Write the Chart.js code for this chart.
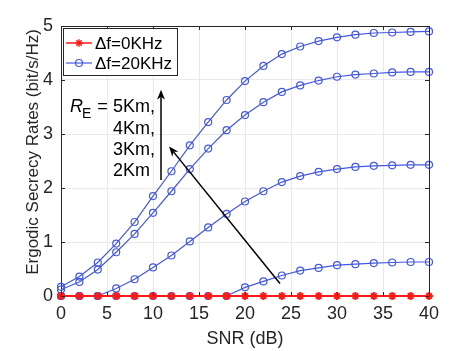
<!DOCTYPE html>
<html>
<head>
<meta charset="utf-8">
<script src="https://cdn.jsdelivr.net/npm/chart.js@4/dist/chart.umd.min.js"></script>
<style>
  html, body { margin: 0; padding: 0; background: #fff; }
  #wrap { width: 474px; height: 351px; }
</style>
</head>
<body>
<div id="wrap"><canvas id="chart" width="474" height="351"></canvas></div>
<script>
// Data (SNR in dB, rates in bit/s/Hz)
const snr = [0, 2, 4, 6, 8, 10, 12, 14, 16, 18, 20, 22, 24, 26, 28, 30, 32, 34, 36, 38, 40];
const rate0KHz = [0, 0, 0, 0, 0, 0, 0, 0, 0, 0, 0, 0, 0, 0, 0, 0, 0, 0, 0, 0, 0];
const rate5Km = [0.17, 0.36, 0.62, 0.97, 1.37, 1.85, 2.31, 2.79, 3.22, 3.63, 3.98, 4.26, 4.48, 4.62, 4.72, 4.79, 4.84, 4.87, 4.88, 4.89, 4.90];
const rate4Km = [0.12, 0.26, 0.49, 0.81, 1.15, 1.54, 1.94, 2.35, 2.73, 3.07, 3.35, 3.59, 3.78, 3.90, 3.99, 4.06, 4.10, 4.12, 4.14, 4.15, 4.15];
const rate3Km = [0, 0, 0, 0.14, 0.31, 0.53, 0.75, 1.01, 1.27, 1.52, 1.75, 1.94, 2.11, 2.22, 2.30, 2.35, 2.39, 2.41, 2.42, 2.43, 2.43];
const rate2Km = [0, 0, 0, 0, 0, 0, 0, 0, 0, 0, 0.16, 0.27, 0.38, 0.47, 0.52, 0.57, 0.59, 0.61, 0.62, 0.63, 0.63];

const legendLabels = ["\u0394f=0KHz", "\u0394f=20KHz"];
const distanceLabels = ["5Km,", "4Km,", "3Km,", "2Km"];
const yTitle = "Ergodic Secrecy Rates (bit/s/Hz)";
const xTicks = { min: 0, max: 40, step: 5 };
const yTicks = { min: 0, max: 5, step: 1 };

const RED = "#ff1a1a";
const BLUE = "#4458e0";
const AXIS = "#262626";
const FONT = '"Liberation Sans", Arial, sans-serif';

Chart.defaults.font.family = FONT;

const toPoints = (ys) => ys.map((y, i) => ({ x: snr[i], y: y }));

function blueSet(ys) {
  return {
    data: toPoints(ys),
    borderColor: BLUE,
    backgroundColor: "rgba(0,0,0,0)",
    borderWidth: 1.2,
    pointStyle: "circle",
    pointRadius: 3.5,
    pointBorderWidth: 1.2,
    pointBorderColor: BLUE,
    pointBackgroundColor: "rgba(0,0,0,0)",
    tension: 0,
    clip: false,
  };
}

// Inward ticks, top/right box, y title, legend and annotation arrows
const decorations = {
  id: "decorations",
  afterDatasetsDraw(chart) {
    const { ctx, chartArea: a, scales } = chart;
    const xs = scales.x, ys = scales.y;
    ctx.save();

    // box
    ctx.strokeStyle = AXIS;
    ctx.lineWidth = 1;
    ctx.beginPath();
    ctx.moveTo(a.left, a.top + 0.5);
    ctx.lineTo(a.right + 0.5, a.top + 0.5);
    ctx.lineTo(a.right + 0.5, a.bottom);
    ctx.stroke();

    // inward tick marks
    ctx.beginPath();
    for (let v = xTicks.min; v <= xTicks.max; v += xTicks.step) {
      const px = Math.round(xs.getPixelForValue(v)) + 0.5;
      ctx.moveTo(px, a.bottom); ctx.lineTo(px, a.bottom - 4);
      ctx.moveTo(px, a.top); ctx.lineTo(px, a.top + 4);
    }
    for (let v = yTicks.min; v <= yTicks.max; v += yTicks.step) {
      const py = Math.round(ys.getPixelForValue(v)) + 0.5;
      ctx.moveTo(a.left, py); ctx.lineTo(a.left + 4, py);
      ctx.moveTo(a.right, py); ctx.lineTo(a.right - 4, py);
    }
    ctx.stroke();

    // y axis title
    ctx.save();
    ctx.translate(33, (a.top + a.bottom) / 2 - 9);
    ctx.rotate(-Math.PI / 2);
    ctx.font = "17px " + FONT;
    ctx.fillStyle = AXIS;
    ctx.textAlign = "center";
    ctx.textBaseline = "middle";
    ctx.fillText(yTitle, 0, 0);
    ctx.restore();

    // arrows (data coordinates)
    drawArrow(ctx, xs.getPixelForValue(10.87), ys.getPixelForValue(2.15),
      xs.getPixelForValue(10.87), ys.getPixelForValue(3.82));
    drawArrow(ctx, xs.getPixelForValue(23.8), ys.getPixelForValue(0.23),
      xs.getPixelForValue(11.75), ys.getPixelForValue(2.77));

    // R_E label
    ctx.fillStyle = "#000";
    ctx.textBaseline = "alphabetic";
    const rx = xs.getPixelForValue(0.98);
    const ry = ys.getPixelForValue(3.40);
    ctx.font = "italic 18px " + FONT;
    ctx.fillText("R", rx, ry);
    const rw = ctx.measureText("R").width;
    ctx.font = "14px " + FONT;
    ctx.fillText("E", rx + rw - 1, ry + 6);
    const ew = ctx.measureText("E").width;
    ctx.font = "18px " + FONT;
    const eqx = rx + rw - 1 + ew + 6;
    ctx.fillText("=", eqx, ry);
    const lx = xs.getPixelForValue(5.65);
    distanceLabels.forEach((t, i) => ctx.fillText(t, lx, ry + i * 21.2));

    // legend
    const L = { x: 63.5, y: 28.5, w: 114, h: 47 };
    ctx.fillStyle = "#fff";
    ctx.fillRect(L.x, L.y, L.w, L.h);
    ctx.strokeStyle = AXIS;
    ctx.lineWidth = 1;
    ctx.strokeRect(L.x, L.y, L.w, L.h);
    ctx.font = "17px " + FONT;
    ctx.textBaseline = "middle";
    const rows = [
      { y: 43, color: RED, mark: "star" },
      { y: 63, color: BLUE, mark: "circle" },
    ];
    rows.forEach((r, i) => {
      ctx.strokeStyle = r.color;
      ctx.lineWidth = r.mark === "star" ? 1.5 : 1.2;
      ctx.beginPath();
      ctx.moveTo(66, r.y); ctx.lineTo(92, r.y);
      ctx.stroke();
      drawMarker(ctx, r.mark, 79, r.y, r.color);
      ctx.fillStyle = "#000";
      ctx.fillText(legendLabels[i], 95, r.y + 1);
    });
    ctx.restore();
  },
};

function drawMarker(ctx, mark, x, y, color) {
  ctx.save();
  ctx.strokeStyle = color;
  ctx.beginPath();
  if (mark === "circle") {
    ctx.lineWidth = 1.2;
    ctx.arc(x, y, 3.5, 0, Math.PI * 2);
  } else {
    ctx.lineWidth = 1.4;
    const r = 3.8, d = r * Math.SQRT1_2;
    ctx.moveTo(x - r, y); ctx.lineTo(x + r, y);
    ctx.moveTo(x, y - r); ctx.lineTo(x, y + r);
    ctx.moveTo(x - d, y - d); ctx.lineTo(x + d, y + d);
    ctx.moveTo(x - d, y + d); ctx.lineTo(x + d, y - d);
  }
  ctx.stroke();
  ctx.restore();
}

function drawArrow(ctx, x1, y1, x2, y2) {
  const ang = Math.atan2(y2 - y1, x2 - x1);
  const len = 10, half = 4, notch = 3;
  ctx.save();
  ctx.strokeStyle = "#000";
  ctx.fillStyle = "#000";
  ctx.lineWidth = 1.5;
  ctx.beginPath();
  ctx.moveTo(x1, y1);
  ctx.lineTo(x2 - Math.cos(ang) * (len - notch), y2 - Math.sin(ang) * (len - notch));
  ctx.stroke();
  ctx.translate(x2, y2);
  ctx.rotate(ang);
  ctx.beginPath();
  ctx.moveTo(0, 0);
  ctx.lineTo(-len, -half);
  ctx.lineTo(-len + notch, 0);
  ctx.lineTo(-len, half);
  ctx.closePath();
  ctx.fill();
  ctx.restore();
}

new Chart(document.getElementById("chart"), {
  type: "line",
  data: {
    datasets: [
      {
        data: toPoints(rate0KHz),
        borderColor: RED,
        borderWidth: 1.8,
        pointStyle: "star",
        pointRadius: 4,
        pointBorderWidth: 2,
        pointBorderColor: RED,
        pointBackgroundColor: RED,
        tension: 0,
        clip: false,
      },
      blueSet(rate5Km),
      blueSet(rate4Km),
      blueSet(rate3Km),
      blueSet(rate2Km),
    ],
  },
  options: {
    responsive: false,
    animation: false,
    layout: { padding: { top: 26, right: 45, left: 0, bottom: 0 } },
    plugins: { legend: { display: false }, tooltip: { enabled: false } },
    scales: {
      x: {
        type: "linear",
        min: xTicks.min,
        max: xTicks.max,
        ticks: { stepSize: xTicks.step, color: AXIS, font: { size: 18 }, padding: 7, maxRotation: 0 },
        grid: { color: "#e9e9e9", drawTicks: false },
        border: { color: AXIS },
        title: { display: true, text: "SNR (dB)", color: AXIS, font: { size: 18 }, padding: { top: 0, bottom: 1 } },
        afterFit(s) { s.height = 55; },
      },
      y: {
        min: yTicks.min,
        max: yTicks.max,
        ticks: { stepSize: yTicks.step, color: AXIS, font: { size: 18 }, padding: 8 },
        grid: { color: "#e9e9e9", drawTicks: false },
        border: { color: AXIS },
        afterFit(s) { s.width = 61; },
      },
    },
  },
  plugins: [decorations],
});
</script>
</body>
</html>
